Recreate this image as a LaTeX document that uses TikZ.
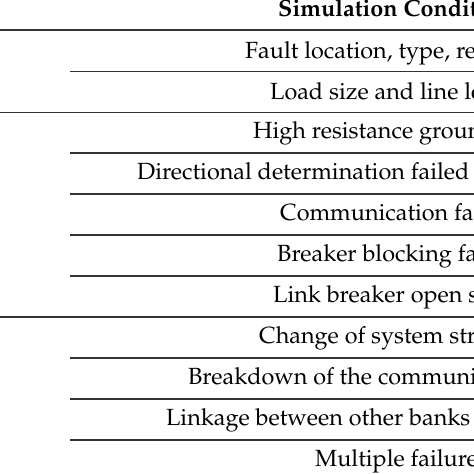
\documentclass[tikz,border=0pt]{standalone}
\usepackage[T1]{fontenc}
\usepackage{mathpazo}
\usepackage{tikz}
\tikzset{
  cell/.style={anchor=base west, inner sep=0pt, font=\fontsize{23.4}{27}\selectfont},
  headcell/.style={cell, font=\fontsize{23.4}{27}\selectfont\bfseries},
  fullrule/.style={line width=1.4pt, black!80},
  partrule/.style={line width=1.1pt, black!80}
}
\begin{document}
\begin{tikzpicture}[x=1pt,y=-1pt]
	\useasboundingbox (0,0) rectangle (474,474);
	\clip (0,0) rectangle (474,474);
	
	% rules across the whole table
	\draw[fullrule] (0,30) -- (474,30);
	\draw[fullrule] (0,112.5) -- (474,112.5);
	\draw[fullrule] (0,317) -- (474,317);
	
	% rules inside a group
	\draw[partrule] (70,71.7) -- (474,71.7);
	\draw[partrule] (70,153) -- (474,153);
	\draw[partrule] (70,194) -- (474,194);
	\draw[partrule] (70,235) -- (474,235);
	\draw[partrule] (70,276) -- (474,276);
	\draw[partrule] (70,358) -- (474,358);
	\draw[partrule] (70,399) -- (474,399);
	\draw[partrule] (70,440) -- (474,440);
	
	\node[headcell] (head) at (278,16.7) {Simulation Conditions};
	
	\node[cell] (fault) at (245,58.3) {Fault location, type, resistance};
	\node[cell] (load) at (270,99.3) {Load size and line length};
	
	\node[cell] (highres) at (253,138.5) {High resistance grounding};
	\node[cell] (direction) at (137,179.3) {Directional determination failed};
	\node[cell] (comm) at (280,220.3) {Communication failure};
	\node[cell] (blocking) at (277,261.3) {Breaker blocking failure};
	\node[cell] (linkopen) at (273,302.3) {Link breaker open signal};
	
	\node[cell] (change) at (259,343.3) {Change of system structure};
	\node[cell] (breakdown) at (188,384.3) {Breakdown of the communication};
	\node[cell] (linkage) at (166,425.3) {Linkage between other banks};
	\node[cell] (multiple) at (315,466.3) {Multiple failures};
\end{tikzpicture}
\end{document}
